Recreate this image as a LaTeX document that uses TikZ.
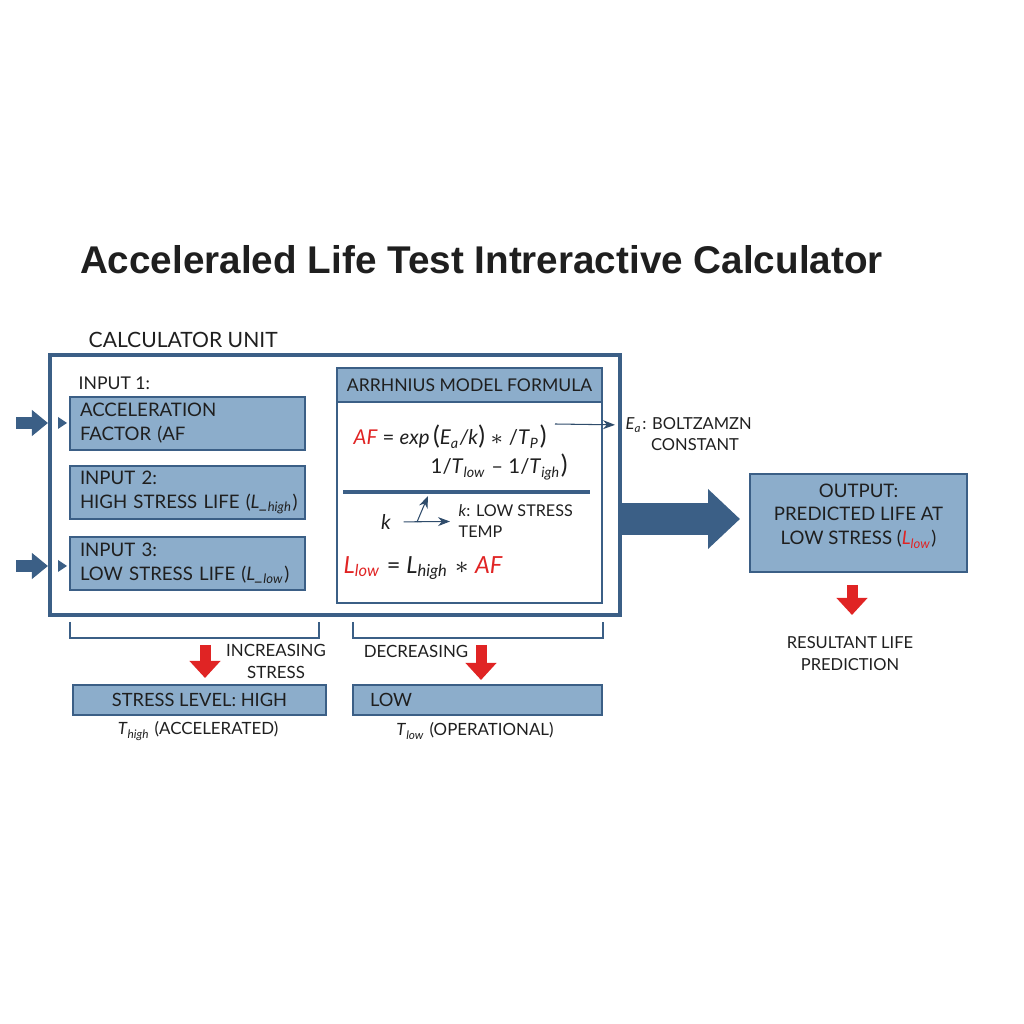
\documentclass[tikz,border=0pt]{standalone}
\usepackage{fontspec}
\setmainfont{Lato}
\newfontfamily\titlefont{Liberation Sans}
\usetikzlibrary{arrows.meta}
\definecolor{boxblue}{HTML}{8CADCB}
\definecolor{edgeblue}{HTML}{3B5F86}
\definecolor{arrowred}{HTML}{E02424}
\definecolor{inkgrey}{HTML}{1F1F1F}
\newcommand{\bigpar}[1]{{\fontsize{7.2}{7.2}\selectfont #1}}
\tikzset{
    every node/.style={inner sep=0mm, text=inkgrey, font=\fontsize{5.3}{6.8}\selectfont}
}
\tikzset{
    unitbox/.style={draw=edgeblue, line width=1.1pt},
    inbox/.style={draw=edgeblue, fill=boxblue, line width=0.6pt, minimum width=2.35cm, minimum height=0.53cm, text width=2.15cm, align=left},
    formbox/.style={draw=edgeblue, line width=0.8pt},
    headbox/.style={draw=edgeblue, fill=boxblue, line width=0.8pt, font=\fontsize{5.0}{6}\selectfont},
    stressbox/.style={draw=edgeblue, fill=boxblue, line width=0.6pt, minimum height=0.30cm, font=\fontsize{5.2}{6}\selectfont},
    smalltext/.style={font=\fontsize{4.8}{6.1}\selectfont},
    formtext/.style={font=\fontsize{5.8}{7}\selectfont},
    bigformula/.style={font=\fontsize{6.7}{8}\selectfont},
    thinarrow/.style={draw=edgeblue!80!black, line width=0.3pt, -{Stealth[length=1.2mm, width=0.9mm]}},
    bluearrow/.style={draw=edgeblue, line width=0.12cm, -{Triangle[length=0.16cm, width=0.25cm]}},
    bigarrow/.style={draw=edgeblue, line width=0.32cm, -{Triangle[length=0.32cm, width=0.58cm]}},
    redarrow/.style={draw=arrowred, line width=0.11cm, -{Triangle[length=0.17cm, width=0.30cm]}},
    bracket/.style={draw=edgeblue, line width=0.6pt}
}

\begin{document}
\begin{tikzpicture}
  \useasboundingbox (0cm, 0cm) rectangle (10.24cm, 10.24cm);

  \node (title) [font=\titlefont\bfseries\fontsize{11}{13}\selectfont] at (4.815cm, 7.64cm) {Acceleraled Life Test Intreractive Calculator};

  \node (unitlbl) [anchor=west, font=\fontsize{6.0}{7}\selectfont] at (0.88cm, 6.84cm) {CALCULATOR UNIT};
  \node (unit) [unitbox, minimum width=5.70cm, minimum height=2.60cm] at (3.35cm, 5.39cm) {};

  \node (in1lbl) [anchor=west, font=\fontsize{5.0}{6}\selectfont] at (0.78cm, 6.41cm) {INPUT 1:};
  \node (in1) [inbox] at (1.875cm, 6.005cm) {ACCELERATION\\FACTOR (AF};
  \node (in2) [inbox] at (1.875cm, 5.315cm) {INPUT 2:\\\mbox{HIGH STRESS LIFE (\textit{L\_}\textsubscript{\itshape high})}};
  \node (in3) [inbox] at (1.875cm, 4.605cm) {INPUT 3:\\\mbox{LOW STRESS LIFE (\textit{L\_}\textsubscript{\itshape low})}};

  \coordinate (a1s) at (0.16cm, 6.01cm);
  \coordinate (a1e) at (0.48cm, 6.01cm);
  \coordinate (a3s) at (0.16cm, 4.58cm);
  \coordinate (a3e) at (0.48cm, 4.58cm);
  \draw [bluearrow] (a1s) -- (a1e);
  \draw [bluearrow] (a3s) -- (a3e);
  \fill [edgeblue] (0.58cm, 6.07cm) -- (0.67cm, 6.01cm) -- (0.58cm, 5.95cm) -- cycle;
  \fill [edgeblue] (0.58cm, 4.64cm) -- (0.67cm, 4.58cm) -- (0.58cm, 4.52cm) -- cycle;

  \node (formula) [formbox, minimum width=2.65cm, minimum height=2.35cm] at (4.695cm, 5.385cm) {};
  \node (formhead) [headbox, minimum width=2.65cm, minimum height=0.34cm] at (4.695cm, 6.39cm) {ARRHNIUS MODEL FORMULA};

  \node (af) [anchor=west, formtext] at (3.53cm, 5.87cm) {{\color{arrowred}\itshape AF} = \textit{exp}\,\bigpar{(}\textit{E}\textsubscript{\itshape a}\textit{/k}\bigpar{)} $\ast$ /\textit{T}\textsubscript{\itshape P}\bigpar{)}};
  \node (af2) [anchor=west, formtext] at (4.30cm, 5.57cm) {1/\textit{T}\textsubscript{\itshape low} -- 1/\textit{T}\textsubscript{\itshape igh}\bigpar{)}};
  \coordinate (rulel) at (3.43cm, 5.32cm);
  \coordinate (ruler) at (5.90cm, 5.32cm);
  \draw [edgeblue, line width=0.4mm] (rulel) -- (ruler);

  \node (ksym) [formtext] at (3.86cm, 5.02cm) {\textit{k}};
  \node (kdesc) [anchor=west, align=left, font=\fontsize{4.6}{6.2}\selectfont] at (4.58cm, 5.03cm) {\textit{k}: LOW STRESS\\TEMP};
  \draw [thinarrow, shorten <=0.12cm, shorten >=0.08cm] (ksym) -- (kdesc);
  \coordinate (kfoot) at (4.17cm, 5.02cm);
  \coordinate (ktip) at (4.28cm, 5.28cm);
  \draw [thinarrow] (kfoot) -- (ktip);

  \node (llow) [anchor=west, bigformula] at (3.43cm, 4.56cm) {{\color{arrowred}\itshape L}\textsubscript{\color{arrowred}\itshape low} = \textit{L}\textsubscript{\itshape high} $\ast$ {\color{arrowred}\itshape AF}};

  \node (ealbl) [anchor=west, font=\fontsize{4.7}{6}\selectfont] at (6.25cm, 5.99cm) {\textit{E}\textsubscript{\itshape a}: BOLTZAMZN};
  \node (constlbl) [font=\fontsize{4.7}{6}\selectfont] at (6.95cm, 5.79cm) {CONSTANT};
  \coordinate (eafrom) at (5.55cm, 6.00cm);
  \draw [thinarrow, shorten >=0.1cm] (eafrom) -- (ealbl.west);

  \node (out) [draw=edgeblue, fill=boxblue, line width=0.8pt, minimum width=2.17cm, minimum height=0.98cm] at (8.585cm, 5.01cm) {};
  \node (outtxt) [align=center] at (8.585cm, 5.08cm) {OUTPUT:\\PREDICTED LIFE AT\\LOW STRESS ({\color{arrowred}\itshape L}\textsubscript{\color{arrowred}\itshape low})};
  \coordinate (bigfrom) at (6.20cm, 5.05cm);
  \coordinate (bigto) at (7.40cm, 5.05cm);
  \draw [bigarrow] (bigfrom) -- (bigto);

  \coordinate (r0s) at (8.52cm, 4.39cm);
  \coordinate (r0e) at (8.52cm, 4.09cm);
  \draw [redarrow] (r0s) -- (r0e);
  \node (result) [align=center, font=\fontsize{4.7}{6.3}\selectfont] at (8.50cm, 3.70cm) {RESULTANT LIFE\\PREDICTION};

  \draw [bracket] (0.70cm, 4.02cm) -- (0.70cm, 3.86cm) -- (3.19cm, 3.86cm) -- (3.19cm, 4.02cm);
  \draw [bracket] (3.53cm, 4.02cm) -- (3.53cm, 3.86cm) -- (6.03cm, 3.86cm) -- (6.03cm, 4.02cm);

  \coordinate (r1s) at (2.05cm, 3.79cm);
  \coordinate (r1e) at (2.05cm, 3.46cm);
  \draw [redarrow] (r1s) -- (r1e);
  \node (incr) [align=center, smalltext] at (2.76cm, 3.625cm) {INCREASING\\STRESS};
  \node (high) [stressbox, minimum width=2.53cm] at (1.995cm, 3.24cm) {STRESS LEVEL: HIGH};
  \node (thigh) [smalltext] at (1.98cm, 2.93cm) {\textit{T}\textsubscript{\itshape high} (ACCELERATED)};

  \coordinate (r2s) at (4.81cm, 3.79cm);
  \coordinate (r2e) at (4.81cm, 3.44cm);
  \draw [redarrow] (r2s) -- (r2e);
  \node (decr) [smalltext] at (4.16cm, 3.73cm) {DECREASING};
  \node (low) [stressbox, minimum width=2.49cm, text width=2.15cm, align=left] at (4.775cm, 3.24cm) {LOW};
  \node (tlow) [smalltext] at (4.75cm, 2.93cm) {\textit{T}\textsubscript{\itshape low} (OPERATIONAL)};
\end{tikzpicture}
\end{document}
